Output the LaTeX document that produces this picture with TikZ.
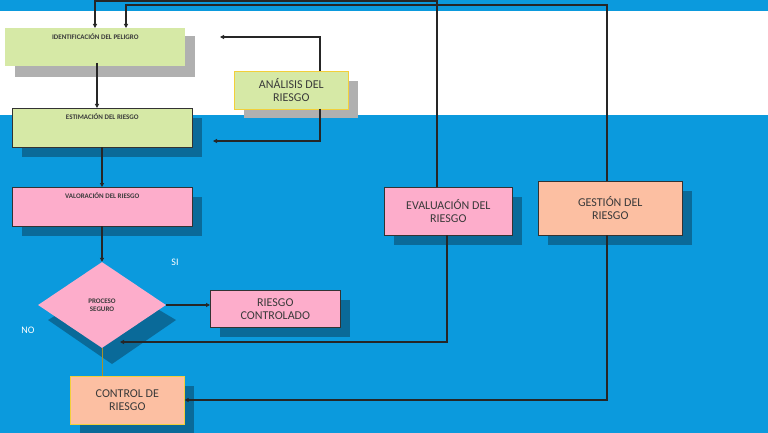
\documentclass[tikz,border=0pt]{standalone}
\usepackage{fontspec}
\setmainfont{Carlito}
\usetikzlibrary{shapes.geometric,arrows.meta}
\definecolor{bgblue}{HTML}{0B9ADD}
\definecolor{lgreen}{HTML}{D6E9A6}
\definecolor{lpink}{HTML}{FDADCB}
\definecolor{lsalmon}{HTML}{FCBFA2}
\definecolor{shgray}{HTML}{B0B0B0}
\definecolor{shblue}{HTML}{0A6A99}
\definecolor{ink}{HTML}{3A3A3A}
\definecolor{bordery}{HTML}{F2CF3A}
\tikzset{x=1pt,y=-1pt,
 box/.style={draw=black!80,line width=0.6pt,inner sep=0pt,anchor=north west,align=center,text=ink},
 small/.style={font=\bfseries\fontsize{7}{8}\selectfont},
 big/.style={font=\fontsize{12}{13}\selectfont},
 conn/.style={draw=black!85,line width=1.2pt},
 arr/.style={conn,-{Triangle[length=4pt,width=4pt]}},
 lbl/.style={text=white,font=\fontsize{10}{11}\selectfont}}
\begin{document}
\begin{tikzpicture}
\useasboundingbox (0,0) rectangle (768,433);
\fill[bgblue] (0,0) rectangle (768,433);
\fill[white] (0,11) rectangle (768,115);
% shadows
\fill[shgray] (15,36) rectangle (195,77);
\fill[shblue] (22,118) rectangle (202,157);
\fill[shblue] (22,197) rectangle (202,236);
\fill[shgray] (244,81) rectangle (358,118);
\fill[shblue] (394,197) rectangle (522,245);
\fill[shblue] (548,191) rectangle (692,245);
\fill[shblue] (220,300) rectangle (350,337);
\fill[shblue] (80,386) rectangle (194,433);
\fill[shblue] (48,320) -- (112,282) -- (176,320) -- (112,364) -- cycle;
% boxes
\node[box,small,fill=lgreen,draw=none,minimum width=180,minimum height=38,text depth=22pt] (id) at (5,28) {IDENTIFICACIÓN DEL PELIGRO};
\node[box,small,fill=lgreen,minimum width=180,minimum height=39,text depth=22pt] (est) at (12,108) {ESTIMACIÓN DEL RIESGO};
\node[box,small,fill=lpink,minimum width=180,minimum height=39,text depth=22pt] (val) at (12,187) {VALORACIÓN DEL RIESGO};
\node[box,big,fill=lgreen,draw=bordery,minimum width=114,minimum height=38] (ana) at (234,71) {ANÁLISIS DEL\\RIESGO};
\node[box,big,fill=lpink,minimum width=128,minimum height=48] (eva) at (384,187) {EVALUACIÓN DEL\\RIESGO};
\node[box,big,fill=lsalmon,minimum width=144,minimum height=54] (ges) at (538,181) {GESTIÓN DEL\\RIESGO};
\node[box,big,fill=lpink,minimum width=130,minimum height=37] (rc) at (210,290) {RIESGO\\CONTROLADO};
\node[box,big,fill=lsalmon,draw=bordery,minimum width=114,minimum height=48] (cr) at (70,376) {CONTROL DE\\RIESGO};
\node[diamond,fill=lpink,minimum width=128,minimum height=86,inner sep=0pt,aspect=1.49,small,align=center,text=ink] (dia) at (102,305) {PROCESO\\SEGURO};
% connectors
\coordinate (t1) at (95,1); \coordinate (t2) at (126,5);
\draw[arr] (eva.north -| 437,0) |- (t1) -- (t1 |- id.north);
\draw[arr] (ges.north -| 607,0) |- (t2) -- (t2 |- id.north);
\draw[arr] (97,63) -- (97,108);
\draw[arr] (102,147) -- (102,187);
\draw[arr] (102,226) -- (dia.north);
\draw[arr] (320,71) |- (220,37);
\draw[arr] (320,109) |- (213,141);
\draw[arr] (dia.east) -- (rc.west |- dia.east);
\draw[arr] (447,235) |- (120,342);
\draw[arr] (607,235) |- (cr.east |- 0,400);
\draw[draw=bordery!70!black,line width=0.6pt] (dia.south) -- (cr.north -| dia.south);
\node[lbl] (si) at (175,262) {SI};
\node[lbl] (no) at (28,330) {NO};
\end{tikzpicture}
\end{document}
